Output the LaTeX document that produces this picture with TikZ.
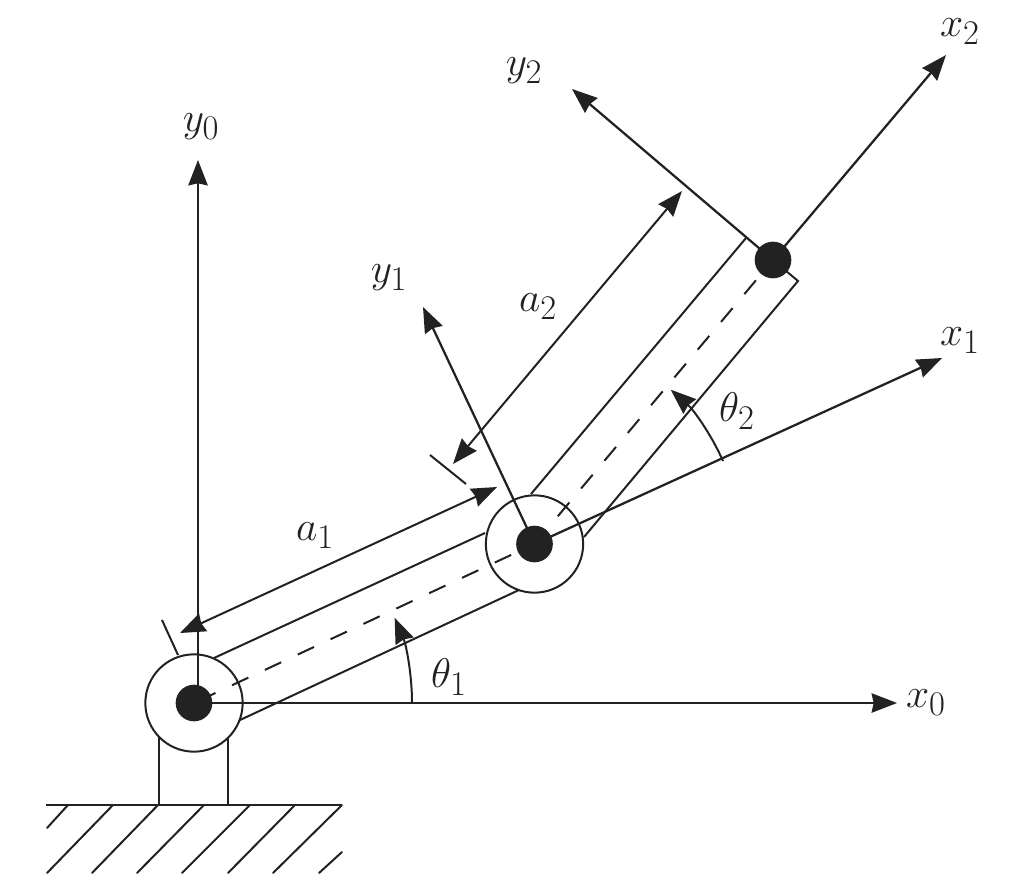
\documentclass[tikz,border=0pt]{standalone}
\usetikzlibrary{arrows.meta}
\definecolor{ink}{HTML}{222222}
\tikzset{
  px/.style={x=0.75pt,y=-0.75pt},
  line/.style={draw=ink,line width=1.7pt},
  thin line/.style={draw=ink,line width=1.5pt},
  axis/.style={line,-{Stealth[length=19pt,width=14.5pt,inset=1.5pt]}},
  dim/.style={thin line,{Stealth[length=19pt,width=14.5pt,inset=1.5pt]}-{Stealth[length=19pt,width=14.5pt,inset=1.5pt]}},
  arcarrow/.style={thin line,-{Stealth[length=19pt,width=14.5pt,inset=1.5pt]}},
  centerline/.style={thin line,dash pattern=on 13.5pt off 13.69pt},
  hub/.style={circle,draw=ink,fill=white,line width=1.5pt,minimum size=73pt,inner sep=0pt},
  pin/.style={circle,fill=ink,minimum size=27.5pt,inner sep=0pt},
  lbl/.style={text=ink,inner sep=0pt,scale=1.25,font=\fontsize{24.88}{28}\selectfont}
}
\begin{document}
\begin{tikzpicture}[px]
\useasboundingbox (0,0) rectangle (1024,893);
% named points
\coordinate (P0) at (194,703);
\coordinate (P1) at (534.5,544);
\coordinate (P2) at (773,260);
\coordinate (X0) at (897,703);
\coordinate (X1) at (942,358);
\coordinate (X2) at (946,55);
\coordinate (Y0b) at (198,703);
\coordinate (Y0) at (198,160);
\coordinate (Y1) at (423,307);
\coordinate (Y2) at (572,89);
\coordinate (GL) at (46,805);
\coordinate (GR) at (342,805);
\coordinate (PLb) at (159,805);
\coordinate (PLt) at (159,735);
\coordinate (PRb) at (228,805);
\coordinate (PRt) at (228,735);
% ground
\draw[line] (GL) -- (GR);
\draw[thin line,line cap=round]
  (68,805) -- (47,828)
  (113,805) -- (47,873)
  (158,805) -- (92,873)
  (204,805) -- (137,873)
  (250,805) -- (182,873)
  (295,805) -- (228,873)
  (342,805) -- (273,873)
  (342,852) -- (319,873);
% pedestal
\draw[line] (PLb) -- (PLt);
\draw[line] (PRb) -- (PRt);
% hubs
\node[hub] (H0) at (P0) {};
\node[hub] (H1) at (P1) {};
% link 1
\coordinate (L1a) at (214,658);
\coordinate (L1b) at (485,533);
\coordinate (L1c) at (240,720);
\coordinate (L1d) at (519,590);
\draw[thin line] (L1a) -- (L1b);
\draw[thin line] (L1c) -- (L1d);
\draw[centerline,dash phase=22.9pt] (P0) -- (P1);
% link 2
\coordinate (L2a) at (531,494);
\coordinate (L2b) at (746,238);
\coordinate (L2c) at (584,537);
\coordinate (L2d) at (798,281);
\draw[thin line] (L2a) -- (L2b);
\draw[thin line,line join=miter] (L2c) -- (L2d) -- (P2);
\draw[centerline] (P1) -- (P2);
% axes
\draw[axis] (Y0b) -- (Y0);
\draw[axis] (P0) -- (X0);
\draw[axis] (P1) -- (X1);
\draw[axis] (P1) -- (Y1);
\draw[axis] (P2) -- (X2);
\draw[axis] (P2) -- (Y2);
% dimensions
\coordinate (A1a) at (180,633);
\coordinate (A1b) at (497,487);
\coordinate (A2a) at (453,464);
\coordinate (A2b) at (682,191);
\draw[dim] (A1a) -- (A1b);
\draw[dim] (A2a) -- (A2b);
\coordinate (T0a) at (162,620);
\coordinate (T0b) at (178,655);
\coordinate (T1a) at (430,455);
\coordinate (T1b) at (466,484);
\draw[thin line] (T0a) -- (T0b);
\draw[thin line] (T1a) -- (T1b);
% angle arcs
\coordinate (ThA) at (412,703);
\coordinate (ThB) at (723,461);
\draw[arcarrow] (ThA) arc[start angle=0,end angle=-23,radius=218];
\draw[arcarrow] (ThB) arc[start angle=-23.8,end angle=-48.7,radius=205];
% pins
\node[pin] (B0) at (P0) {};
\node[pin] (B1) at (P1) {};
\node[pin] (B2) at (P2) {};
% labels
\node[lbl] (lx0) at (926,703) {$x_0$};
\node[lbl] (lx1) at (960,341) {$x_1$};
\node[lbl] (lx2) at (960,32) {$x_2$};
\node[lbl] (ly0) at (201,127) {$y_0$};
\node[lbl] (ly1) at (389,278) {$y_1$};
\node[lbl] (ly2) at (524,71) {$y_2$};
\node[lbl] (la1) at (315,536) {$a_1$};
\node[lbl] (la2) at (538,307) {$a_2$};
\node[lbl] (lt1) at (449,677) {$\theta_1$};
\node[lbl] (lt2) at (737,411) {$\theta_2$};
\end{tikzpicture}
\end{document}
